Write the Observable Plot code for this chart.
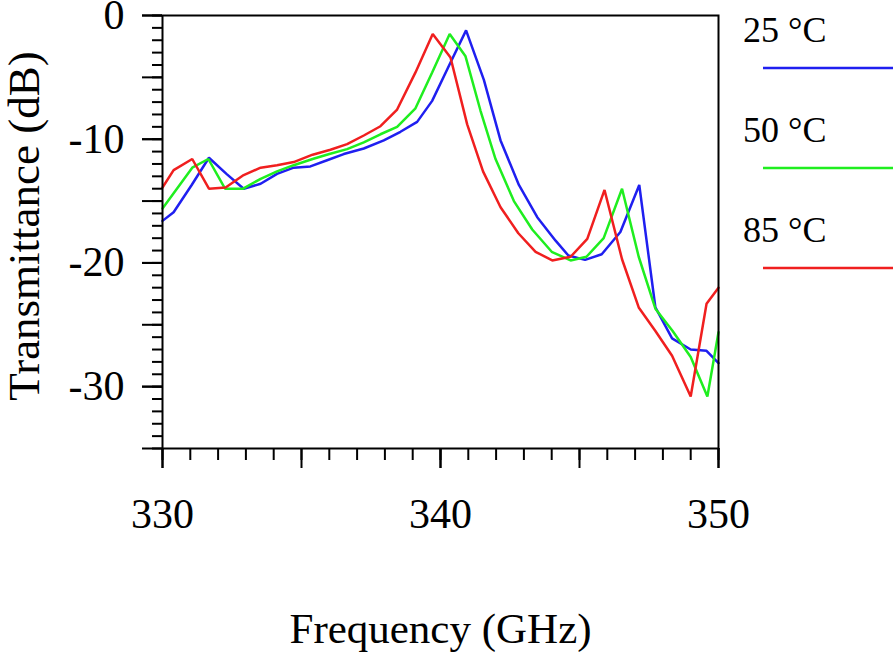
<!DOCTYPE html>
<html>
<head>
<meta charset="utf-8">
<script src="https://cdn.jsdelivr.net/npm/d3@7"></script>
<script src="https://cdn.jsdelivr.net/npm/@observablehq/plot@0.6"></script>
<style>
  html, body { margin: 0; padding: 0; background: #fff; }
  #chart { width: 896px; height: 668px; }
</style>
</head>
<body>
<div id="chart"></div>
<script>
// Series labels and colours
const labels = ["25 °C", "50 °C", "85 °C"];
const colors = ["#1f1ff0", "#1fee1f", "#f01f1f"];

// 25 °C
const f25 = [330.0, 330.4, 331.05, 331.67, 332.3, 332.92, 333.53, 334.12, 334.72, 335.32, 335.92, 336.52, 337.24, 337.96, 338.56, 339.16, 339.7, 340.36, 340.92, 341.56, 342.16, 342.82, 343.48, 344.14, 344.6, 345.2, 345.8, 346.47, 347.15, 347.73, 348.33, 349.0, 349.57, 350.0];
const t25 = [-16.6, -15.9, -13.7, -11.5, -12.8, -14.0, -13.6, -12.8, -12.3, -12.2, -11.7, -11.2, -10.75, -10.1, -9.4, -8.6, -6.9, -3.8, -1.2, -5.2, -10.1, -13.7, -16.3, -18.2, -19.4, -19.75, -19.3, -17.5, -13.7, -23.6, -26.1, -27.0, -27.1, -28.1];

// 50 °C
const f50 = [330.0, 331.07, 331.65, 332.25, 332.9, 333.53, 334.12, 334.72, 335.4, 336.0, 336.64, 337.24, 337.84, 338.44, 339.1, 339.7, 340.33, 340.9, 341.44, 341.98, 342.64, 343.3, 344.0, 344.68, 345.25, 345.87, 346.53, 347.13, 347.73, 348.35, 349.0, 349.6, 350.0];
const t50 = [-15.6, -12.3, -11.6, -14.0, -14.0, -13.2, -12.6, -12.1, -11.6, -11.2, -10.8, -10.25, -9.6, -9.0, -7.5, -4.6, -1.5, -3.3, -7.7, -11.6, -15.0, -17.3, -19.1, -19.8, -19.5, -18.0, -14.0, -19.5, -23.7, -25.5, -27.6, -30.8, -25.6];

// 85 °C
const f85 = [330.0, 330.4, 331.07, 331.67, 332.27, 332.92, 333.53, 334.12, 334.72, 335.4, 336.04, 336.64, 337.24, 337.84, 338.44, 339.1, 339.72, 340.36, 340.96, 341.53, 342.16, 342.8, 343.42, 344.02, 344.68, 345.28, 345.9, 346.53, 347.13, 347.73, 348.33, 349.0, 349.57, 350.0];
const t85 = [-13.9, -12.5, -11.6, -14.0, -13.9, -12.9, -12.3, -12.1, -11.85, -11.25, -10.85, -10.4, -9.7, -8.95, -7.6, -4.6, -1.5, -3.4, -8.8, -12.6, -15.5, -17.6, -19.1, -19.8, -19.5, -18.05, -14.1, -19.7, -23.6, -25.5, -27.5, -30.8, -23.3, -22.0];

// Axis ticks
const xMinor = d3.range(330, 351, 1);
const xMajor = [330, 335, 340, 345, 350];
const xLabels = [330, 340, 350];
const yMinor = d3.range(-35, 1, 1);
const yMajor = [-35, -30, -25, -20, -15, -10, -5, 0];
const yLabels = [0, -10, -20, -30];

const xTitle = "Frequency (GHz)";
const yTitle = "Transmittance (dB)";

const freqs = [f25, f50, f85];
const vals = [t25, t50, t85];
const rows = [];
labels.forEach((lab, i) => freqs[i].forEach((f, j) => rows.push({series: lab, f, t: vals[i][j]})));

const font = "'Liberation Serif', 'Times New Roman', serif";

function legend(index, scales, values, dimensions) {
  const g = d3.create("svg:g").attr("font-family", font).attr("text-anchor", "start");
  const x0 = dimensions.width - dimensions.marginRight + 25;
  labels.forEach((lab, i) => {
    const yb = 42 + i * 100;
    g.append("text").attr("x", x0).attr("y", yb).attr("font-size", 36)
      .attr("text-anchor", "start").attr("fill", "black").text(lab);
    g.append("line").attr("x1", x0 + 20).attr("x2", x0 + 150)
      .attr("y1", yb + 26).attr("y2", yb + 26)
      .attr("stroke", colors[i]).attr("stroke-width", 2.5);
  });
  return g.node();
}

const plot = Plot.plot({
  width: 896,
  height: 668,
  marginLeft: 162,
  marginRight: 178,
  marginTop: 15,
  marginBottom: 220,
  style: {fontFamily: font, fontSize: "42px", color: "black", background: "white", overflow: "visible"},
  x: {domain: [330, 350], label: null},
  y: {domain: [-35, 0], label: null},
  color: {domain: labels, range: colors},
  marks: [
    Plot.line(rows, {x: "f", y: "t", z: "series", stroke: "series", strokeWidth: 2.5, strokeLinejoin: "miter"}),
    Plot.frame({stroke: "black", strokeWidth: 2}),
    Plot.axisX({ticks: xMinor, tickSize: 12, tickFormat: () => "", strokeWidth: 2, label: null}),
    Plot.axisX({ticks: xMajor, tickSize: 20, tickFormat: () => "", strokeWidth: 2, label: null}),
    Plot.axisX({ticks: xLabels, tickSize: 20, tickPadding: 30, tickFormat: d => String(d), strokeWidth: 2, fontSize: 42, label: null}),
    Plot.axisY({ticks: yMinor, tickSize: 10, tickFormat: () => "", strokeWidth: 2, label: null}),
    Plot.axisY({ticks: yMajor, tickSize: 20, tickFormat: () => "", strokeWidth: 2, label: null}),
    Plot.axisY({ticks: yLabels, tickSize: 20, tickPadding: 18, tickFormat: d => String(d), strokeWidth: 2, fontSize: 42, label: null}),
    Plot.text([xTitle], {text: d => d, frameAnchor: "bottom", dy: 194, lineAnchor: "bottom", fontSize: 43, fill: "black"}),
    Plot.text([yTitle], {text: d => d, frameAnchor: "left", dx: -138, dy: -6, rotate: -90, lineAnchor: "middle", textAnchor: "middle", fontSize: 45, fill: "black"}),
    legend
  ]
});
document.getElementById("chart").appendChild(plot);
</script>
</body>
</html>
